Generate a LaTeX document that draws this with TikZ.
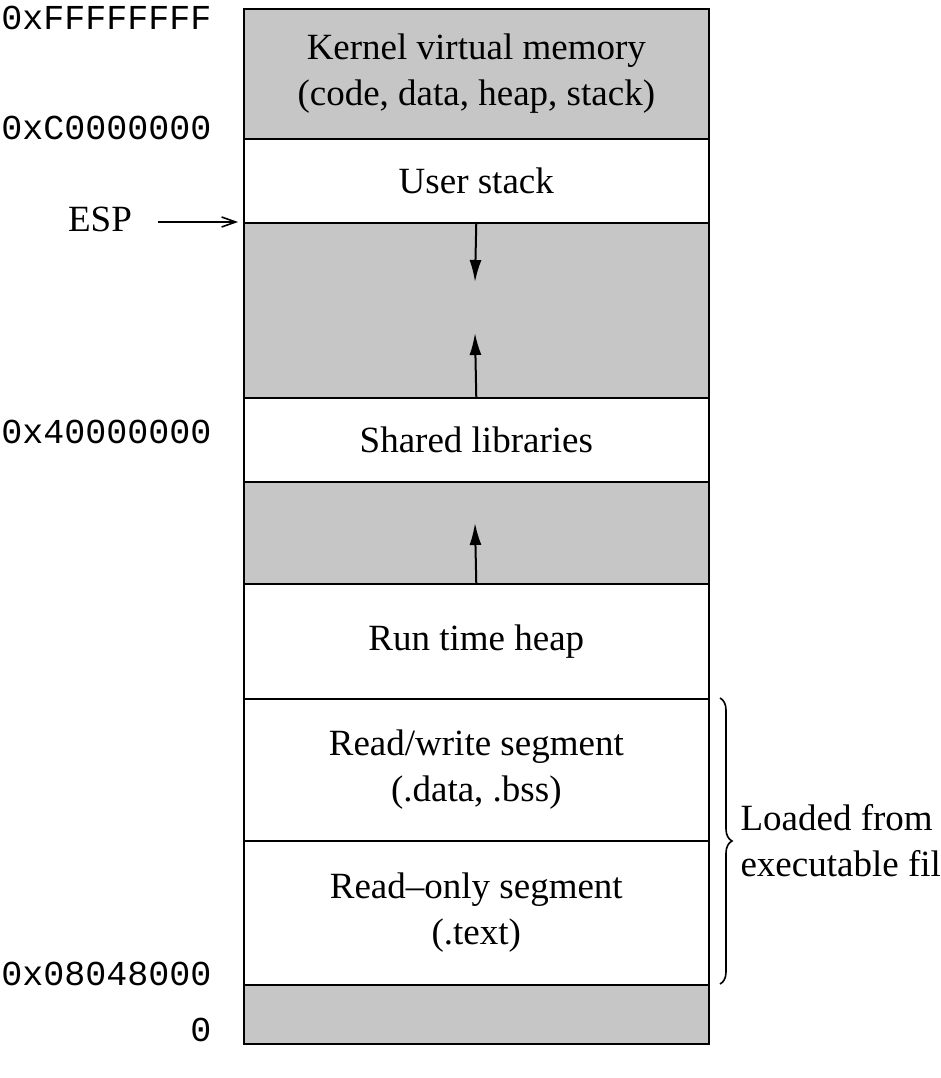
\documentclass[tikz,border=0pt]{standalone}
\usepackage{fontspec}
\setmainfont{Liberation Serif}
\setmonofont{Liberation Mono}
\usetikzlibrary{arrows.meta,decorations.pathreplacing}
\begin{document}
\begin{tikzpicture}[x=1pt,y=-1pt]
	\tikzset{seg/.style={draw=black, line width=1.6pt, minimum width=465pt, inner sep=0pt, align=center, font=\fontsize{37}{46}\selectfont, anchor=north west},
		gap/.style={seg, fill=gray!45},
		addr/.style={anchor=east, font=\fontsize{35}{40}\ttfamily},
		growarrow/.style={-{Latex[length=22pt,width=12pt]}, line width=2pt}}
	\useasboundingbox (0,0) rectangle (941,1078);

	\node[gap, minimum height=130pt] (kernel) at (243,8) {Kernel virtual memory\\(code, data, heap, stack)};
	\node[seg, minimum height=84pt] (stack) at (243,138) {User stack};
	\node[gap, minimum height=175pt] (mmap) at (243,222) {};
	\node[seg, minimum height=84pt] (shlib) at (243,397) {Shared libraries};
	\node[gap, minimum height=102pt] (brk) at (243,481) {};
	\node[seg, minimum height=115pt] (heap) at (243,583) {Run time heap};
	\node[seg, minimum height=142pt] (rw) at (243,698) {Read/write segment\\(.data, .bss)};
	\node[seg, minimum height=144pt] (ro) at (243,840) {Read--only segment\\(.text)};
	\node[gap, minimum height=59pt] (low) at (243,984) {};

	% growth arrows
	\coordinate (sdown) at (475,282);
	\coordinate (mup) at (475,333);
	\coordinate (hup) at (475,523);
	\draw[growarrow] (mmap.north) -- (sdown);
	\draw[growarrow] (mmap.south) -- (mup);
	\draw[growarrow] (brk.south) -- (hup);

	% addresses
	\node[addr] (a1) at (215,18) {0xFFFFFFFF};
	\node[addr] (a2) at (215,128) {0xC0000000};
	\node[addr] (a3) at (215,432) {0x40000000};
	\node[addr] (a4) at (215,974) {0x08048000};
	\node[addr] (a5) at (215,1030) {0};

	\node[font=\fontsize{37}{44}\selectfont] (esp) at (100,219) {ESP};
	\coordinate (esptip) at (238,222);
	\draw[-{Straight Barb[length=14pt,width=10pt]}, line width=1.6pt] (158,222) -- (esptip);

	\draw[line width=1.6pt, decorate, decoration={brace, amplitude=12pt}] (720,698) -- (720,984);
	\node[anchor=west, align=left, font=\fontsize{37}{46}\selectfont] (loaded) at (737,841) {Loaded from the\\executable file};
\end{tikzpicture}
\end{document}
